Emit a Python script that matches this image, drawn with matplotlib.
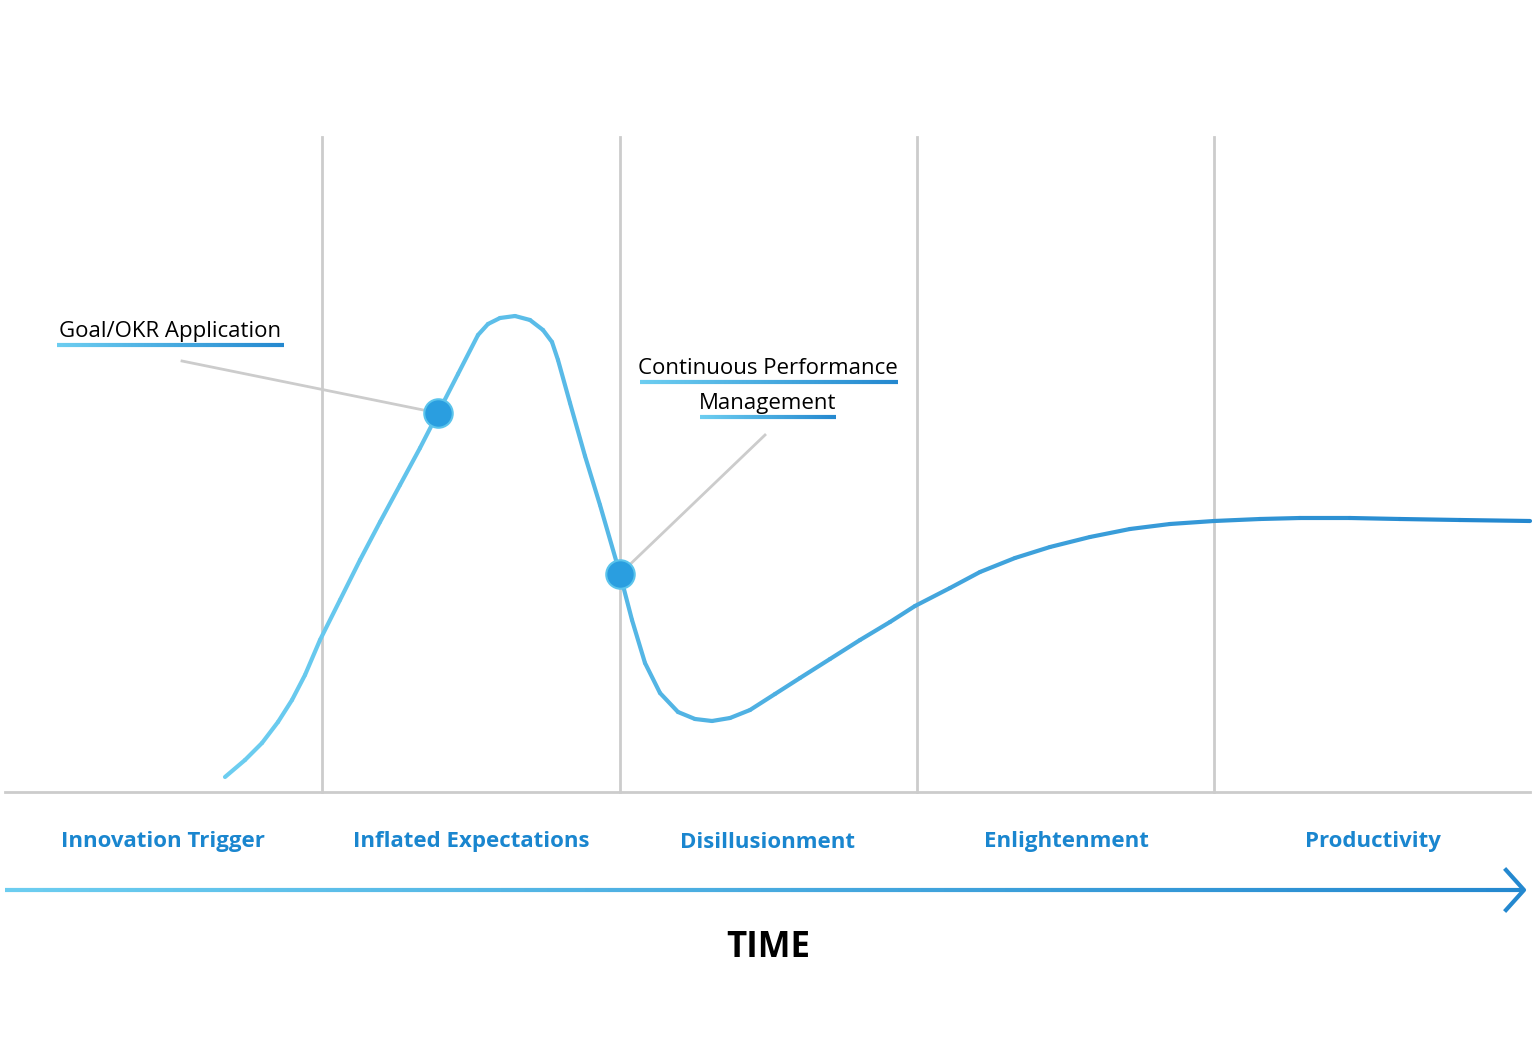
import matplotlib.pyplot as plt
import numpy as np
from matplotlib.collections import LineCollection
from matplotlib.colors import LinearSegmentedColormap

# hype curve points (pixel space)
curve_x = [225, 245, 262, 278, 292, 305, 320, 340, 360, 380, 400, 420, 438, 458, 478, 488, 500, 515, 530, 543, 552, 558,
           570, 585, 600, 620, 632, 645, 660, 678, 695, 712, 730, 750, 775, 800, 830, 860, 890, 915, 950, 980, 1015,
           1050, 1090, 1130, 1170, 1214, 1260, 1300, 1350, 1400, 1460, 1530]
curve_y = [777, 760, 743, 722, 700, 675, 640, 600, 560, 522, 485, 448, 413, 374, 335, 324, 318, 316, 320, 330, 342, 360,
           403, 456, 505, 574, 620, 663, 693, 712, 719, 721, 718, 710, 694, 678, 659, 640, 622, 606, 588, 572, 558,
           547, 537, 529, 524, 521, 519, 518, 518, 519, 520, 521]
phase_lines = [322, 620, 917, 1214]
phases = ["Innovation Trigger", "Inflated Expectations", "Disillusionment", "Enlightenment", "Productivity"]
phase_x = [163, 471, 768, 1066, 1373]
dots = [(438, 413), (620, 574)]

cmap = LinearSegmentedColormap.from_list("hype", ["#6ccdf0", "#2488cf"])

fig = plt.figure(figsize=(15.36, 10.55), dpi=100)
ax = fig.add_axes([0, 0, 1, 1])
ax.set_xlim(0, 1536)
ax.set_ylim(1055, 0)
ax.axis("off")

def grad_line(x0, x1, y, lw, z=3):
    xs = np.linspace(x0, x1, 200)
    pts = np.column_stack([xs, np.full_like(xs, y)]).reshape(-1, 1, 2)
    seg = np.concatenate([pts[:-1], pts[1:]], axis=1)
    lc = LineCollection(seg, cmap=cmap, linewidth=lw, zorder=z, capstyle="butt")
    lc.set_array(np.linspace(0, 1, len(seg)))
    ax.add_collection(lc)

for x in phase_lines:
    ax.plot([x, x], [137, 792], color="#cccccc", lw=2, zorder=1)
ax.plot([5, 1530], [792, 792], color="#cccccc", lw=2, zorder=1)

# curve with gradient
pts = np.column_stack([curve_x, curve_y]).reshape(-1, 1, 2)
seg = np.concatenate([pts[:-1], pts[1:]], axis=1)
lc = LineCollection(seg, cmap=cmap, linewidth=3, zorder=3, capstyle="round", joinstyle="round")
lc.set_array(np.array(curve_x[:-1], dtype=float) / 1536)
ax.add_collection(lc)

# time arrow
grad_line(5, 1524, 890, 3)
ax.plot([1506, 1524, 1506], [870, 890, 910], color="#2488cf", lw=3, zorder=3)

for name, x in zip(phases, phase_x):
    ax.text(x, 842, name, ha="center", va="center", fontsize=16, fontweight="bold",
            color="#1a86cf", family="Open Sans")
ax.text(768, 948, "TIME", ha="center", va="center", fontsize=25, fontweight="bold",
        color="black", family="Open Sans")

# annotations
ax.plot([182, 438], [361, 413], color="#cccccc", lw=2, zorder=2)
ax.plot([765, 620], [435, 574], color="#cccccc", lw=2, zorder=2)
for x, y in dots:
    ax.scatter([x], [y], s=420, color="#2a9ee0", edgecolors="#5bc4ec", linewidths=1.5, zorder=5)

ax.text(170, 332, "Goal/OKR Application", ha="center", va="center", fontsize=16, color="black", family="Open Sans")
grad_line(57, 284, 345, 3)
ax.text(768, 369, "Continuous Performance", ha="center", va="center", fontsize=16, color="black", family="Open Sans")
grad_line(640, 898, 382, 3)
ax.text(768, 404, "Management", ha="center", va="center", fontsize=16, color="black", family="Open Sans")
grad_line(700, 836, 417, 3)

fig.savefig("out.png", dpi=100)
